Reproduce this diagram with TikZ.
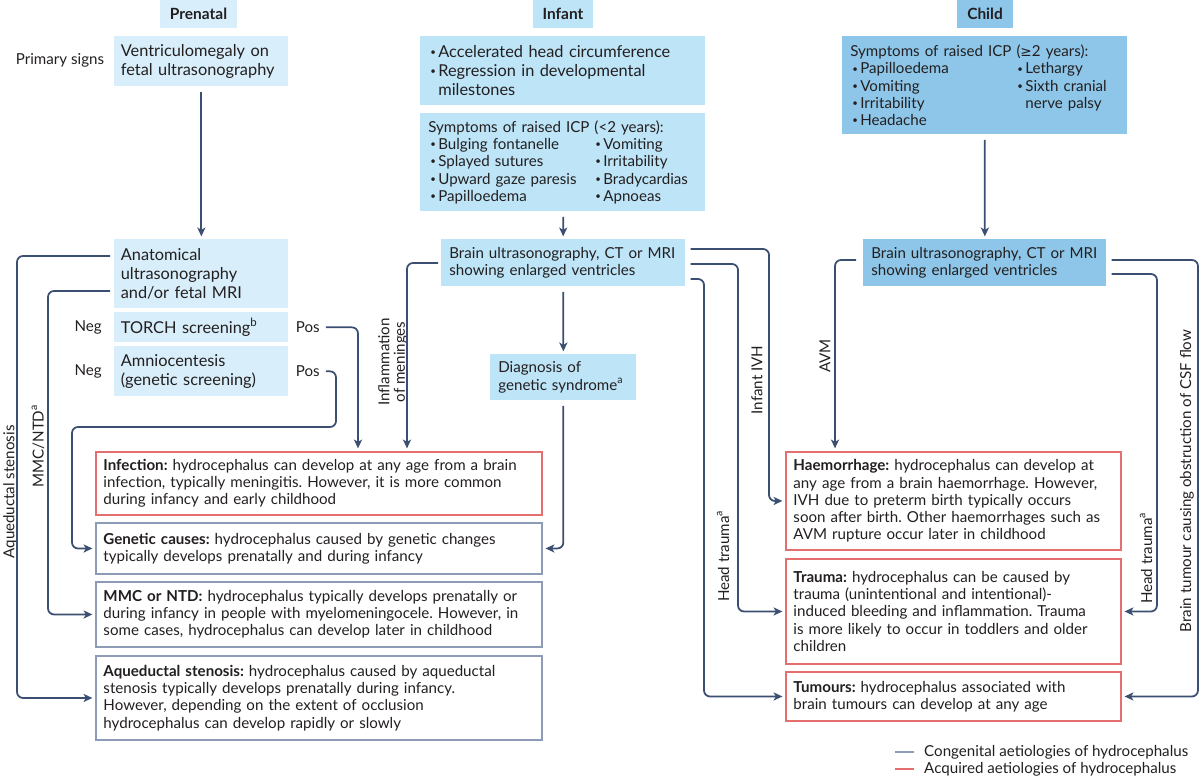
\documentclass[tikz,border=0pt]{standalone}
\usepackage{fontspec}
\setmainfont{Lato}
\newfontfamily\symfont{DejaVu Sans}
\usepackage{xcolor}
\usetikzlibrary{arrows.meta,positioning,calc}
\definecolor{HydPre}{HTML}{D8EEFA}
\definecolor{HydInf}{HTML}{BDE4F7}
\definecolor{HydChi}{HTML}{8DC6E8}
\definecolor{HydCong}{HTML}{8E9BB7}
\definecolor{HydAcq}{HTML}{E36F6F}
\definecolor{HydNavy}{HTML}{3B4F72}
\definecolor{HydInk}{HTML}{231F20}
\frenchspacing
\hyphenpenalty=10000
\exhyphenpenalty=10000
\newcommand{\symitem}{\hspace*{0.04cm}\makebox[0.16cm][l]{\raisebox{0.25ex}{\fontsize{5.5}{6}\selectfont\textbullet}}}
\newcommand{\twocol}[2]{\makebox[3.3cm][l]{#1}#2}
\tikzset{
  figlabel/.style={font=\fontsize{8.6}{9.8}\selectfont, text=HydInk},
  figbig/.style={font=\fontsize{9.3}{10.8}\selectfont, text=HydInk},
  headbox/.style={font=\fontsize{8.8}{10}\selectfont\bfseries, text=HydInk, minimum height=0.56cm, inner sep=0pt},
  fillbox/.style={anchor=north west, align=left, inner xsep=0.16cm, inner ysep=0pt},
  prebox/.style={fillbox, figbig, fill=HydPre, inner xsep=0.13cm, text width=3.22cm},
  infbox/.style={fillbox, fill=HydInf, text width=5.38cm},
  chibox/.style={fillbox, fill=HydChi, text width=5.38cm},
  congbox/.style={fillbox, inner xsep=0.15cm, draw=HydCong, line width=1.1pt, fill=white, text width=8.62cm},
  acqbox/.style={congbox, draw=HydAcq},
  acqright/.style={acqbox, text width=6.4cm},
  sidelabel/.style={figlabel, rotate=90, inner sep=1pt},
  figarrow/.style={-{Stealth[length=5pt,width=4.6pt,inset=1.3pt]}, line width=1pt, draw=HydNavy, rounded corners=0.12cm, shorten >=1.5pt},
  figdown/.style={figarrow, shorten <=3pt}
}

\begin{document}
\begin{tikzpicture}[every node/.style={figlabel}]
\useasboundingbox (0,0) rectangle (24,-15.6);
% column heads
\node[headbox, fill=HydPre, minimum width=1.54cm] (hpre) at (3.97,-0.28) {Prenatal};
\node[headbox, fill=HydInf, minimum width=1.2cm] (hinf) at (11.26,-0.28) {Infant};
\node[headbox, fill=HydChi, minimum width=1.12cm] (hchi) at (19.7,-0.28) {Child};
% prenatal
\node (signs) at (1.2,-1.2) {Primary signs};
\node[prebox, minimum height=1.0cm] (vent) at (2.28,-0.72) {Ventriculomegaly on\\fetal ultrasonography};
\node[prebox, minimum height=1.38cm] (anat) at (2.28,-4.78) {Anatomical\\ultrasonography\\and/or fetal MRI};
\node[prebox, minimum height=0.6cm] (torch) at (2.28,-6.24) {TORCH screening\textsuperscript{b}};
\node[prebox, minimum height=1.0cm] (amnio) at (2.28,-6.92) {Amniocentesis\\(genetic screening)};
\node[left=0.12cm of torch] (neg1) {Neg};
\node[left=0.12cm of amnio] (neg2) {Neg};
\node[right=0.02cm of torch] (pos1) {Pos};
\node[right=0.02cm of amnio] (pos2) {Pos};
% infant
\node[infbox, figbig, minimum height=1.38cm] (isign) at (8.4,-0.72) {\symitem Accelerated head circumference\\
  \symitem Regression in developmental\\\hspace*{0.2cm}milestones};
\node[infbox, minimum height=1.96cm] (iicp) at (8.4,-2.26) {Symptoms of raised ICP (<2 years):\\
  \twocol{\symitem Bulging fontanelle}{\symitem Vomiting}\\
  \twocol{\symitem Splayed sutures}{\symitem Irritability}\\
  \twocol{\symitem Upward gaze paresis}{\symitem Bradycardias}\\
  \twocol{\symitem Papilloedema}{\symitem Apnoeas}};
\node[infbox, text width=4.56cm, minimum height=0.94cm] (ibus) at (8.82,-4.78) {Brain ultrasonography, CT or MRI\\showing enlarged ventricles};
\node[infbox, text width=2.6cm, minimum height=0.92cm] (idiag) at (9.8,-7.08) {Diagnosis of\\genetic syndrome\textsuperscript{a}};
% child
\node[chibox, minimum height=1.96cm] (cicp) at (16.84,-0.72) {Symptoms of raised ICP ({\symfont\fontsize{7.8}{9}\selectfont ≥}2 years):\\
  \twocol{\symitem Papilloedema}{\symitem Lethargy}\\
  \twocol{\symitem Vomiting}{\symitem Sixth cranial}\\
  \twocol{\symitem Irritability}{\hspace*{0.2cm}nerve palsy}\\
  \symitem Headache};
\node[chibox, text width=4.54cm, minimum height=0.94cm] (cbus) at (17.26,-4.78) {Brain ultrasonography, CT or MRI\\showing enlarged ventricles};
% aetiologies
\node[acqbox, minimum height=1.26cm] (infect) at (1.9,-9.02) {\textbf{Infection:} hydrocephalus can develop at any age from a brain\\infection, typically meningitis. However, it is more common\\during infancy and early childhood};
\node[congbox, minimum height=1.02cm] (genet) at (1.9,-10.44) {\textbf{Genetic causes:} hydrocephalus caused by genetic changes\\typically develops prenatally and during infancy};
\node[congbox, minimum height=1.3cm] (mmc) at (1.9,-11.62) {\textbf{MMC or NTD:} hydrocephalus typically develops prenatally or\\during infancy in people with myelomeningocele. However, in\\some cases, hydrocephalus can develop later in childhood};
\node[congbox, minimum height=1.68cm] (aqued) at (1.9,-13.1) {\textbf{Aqueductal stenosis:} hydrocephalus caused by aqueductal\\stenosis typically develops prenatally during infancy.\\However, depending on the extent of occlusion\\hydrocephalus can develop rapidly or slowly};
\node[acqright, minimum height=1.96cm] (haem) at (15.7,-9.02) {\textbf{Haemorrhage:} hydrocephalus can develop at\\any age from a brain haemorrhage. However,\\IVH due to preterm birth typically occurs\\soon after birth. Other haemorrhages such as\\AVM rupture occur later in childhood};
\node[acqright, minimum height=2.1cm] (traum) at (15.7,-11.16) {\textbf{Trauma:} hydrocephalus can be caused by\\trauma (unintentional and intentional)-\\induced bleeding and inflammation. Trauma\\is more likely to occur in toddlers and older\\children};
\node[acqright, minimum height=0.98cm] (tumo) at (15.7,-13.42) {\textbf{Tumours:} hydrocephalus associated with\\brain tumours can develop at any age};
% side labels
\node[sidelabel] (aqlab) at (0.2,-9.84) {Aqueductal stenosis};
\node[sidelabel] (mmclab) at (0.76,-8.92) {MMC/NTD\textsuperscript{a}};
\node[sidelabel, align=center, font=\fontsize{8.6}{8.8}\selectfont] (inflab) at (7.86,-7.24) {Inflammation\\of meninges};
\node[sidelabel] (ivhlab) at (15.14,-7.6) {Infant IVH};
\node[sidelabel] (htlab) at (14.46,-11.12) {Head trauma\textsuperscript{a}};
\node[sidelabel] (avmlab) at (16.5,-7.12) {AVM};
\node[sidelabel] (btlab) at (23.74,-9.62) {Brain tumour causing obstruction of CSF flow};
\node[sidelabel] (htlabc) at (22.92,-11.16) {Head trauma\textsuperscript{a}};
% arrows
\draw[figdown] (vent) -- (anat);
\draw[figdown] (iicp) -- (ibus);
\draw[figdown] (ibus) -- (idiag);
\draw[figdown] (cicp) -- (cbus);
\draw[figdown] (idiag.south) |- (genet.east);
\draw[figarrow] (pos1.east) -| ($(infect.north west)+(5.26,0)$);
\draw[figarrow] (pos2.east) -| (6.72,-8.54) -- (1.44,-8.54) |- (genet.west);
\draw[figarrow] ($(anat.north west)+(-0.08,-0.34)$) -- ++(-1.86,0) |- (aqued.west);
\draw[figarrow] ($(anat.north west)+(-0.08,-1.04)$) -- ++(-1.24,0) |- (mmc.west);
\draw[figarrow] ($(ibus.north west)+(-0.06,-0.48)$) -| ($(infect.north west)+(6.24,0)$);
\draw[figarrow] ($(ibus.north east)+(0.1,-0.2)$) -| ($(haem.west)+(-0.32,0)$) -- (haem.west);
\draw[figarrow] ($(ibus.north east)+(0.1,-0.5)$) -| ($(traum.west)+(-0.94,0)$) -- (traum.west);
\draw[figarrow] ($(ibus.north east)+(0.1,-0.8)$) -| ($(tumo.west)+(-1.62,0)$) -- (tumo.west);
\draw[figarrow] ($(cbus.north west)+(-0.14,-0.42)$) -| ($(haem.north west)+(1.0,0)$);
\draw[figarrow] ($(cbus.north east)+(0.1,-0.42)$) -| ($(tumo.east)+(1.52,0)$) -- (tumo.east);
\draw[figarrow] ($(cbus.north east)+(0.1,-0.7)$) -| ($(traum.east)+(0.7,0)$) -- (traum.east);
% legend
\node[anchor=west] (legc) at (18.36,-15.04) {Congenital aetiologies of hydrocephalus};
\node[anchor=west] (lega) at (18.36,-15.38) {Acquired aetiologies of hydrocephalus};
\draw[HydCong, line width=1.6pt] ([xshift=-0.46cm]legc.west) -- ([xshift=-0.08cm]legc.west);
\draw[HydAcq, line width=1.6pt] ([xshift=-0.46cm]lega.west) -- ([xshift=-0.08cm]lega.west);
\end{tikzpicture}
\end{document}
